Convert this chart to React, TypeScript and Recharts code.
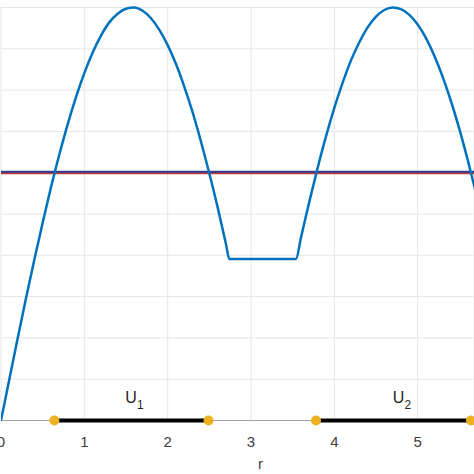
import { ComposedChart, Line, XAxis, YAxis, CartesianGrid, ReferenceLine, ReferenceDot } from "recharts";

// curve
const rValues = [
  0, 0.1, 0.2, 0.3, 0.4, 0.5, 0.6, 0.7, 0.8, 0.9, 1.0, 1.1, 1.2, 1.3, 1.4, 1.5, 1.6, 1.7, 1.8, 1.9,
  2.0, 2.1, 2.2, 2.3, 2.4, 2.5, 2.6, 2.7, 2.74, 3.54, 3.6, 3.7, 3.8, 3.9, 4.0, 4.1, 4.2, 4.3, 4.4,
  4.5, 4.6, 4.7, 4.8, 4.9, 5.0, 5.1, 5.2, 5.3, 5.4, 5.5, 5.6, 5.7,
];
const fValues = [
  0, 0.1, 0.199, 0.296, 0.389, 0.479, 0.565, 0.644, 0.717, 0.783, 0.841, 0.891, 0.932, 0.964, 0.985,
  0.997, 1.0, 0.992, 0.974, 0.946, 0.909, 0.863, 0.808, 0.746, 0.675, 0.598, 0.516, 0.427, 0.391,
  0.391, 0.443, 0.53, 0.612, 0.688, 0.757, 0.818, 0.872, 0.916, 0.952, 0.978, 0.994, 1.0, 0.996,
  0.982, 0.959, 0.926, 0.883, 0.832, 0.773, 0.706, 0.631, 0.551,
];
const level = 0.6;

// intervals on the r axis
const u1 = [0.64, 2.49];
const u2 = [3.78, 5.64];
const u1Label = { r: 1.6, v: 0.05, name: "U", sub: "1" };
const u2Label = { r: 4.81, v: 0.05, name: "U", sub: "2" };

const xTicks = [0, 1, 2, 3, 4, 5];
const yTicks = [0, 0.1, 0.2, 0.3, 0.4, 0.5, 0.6, 0.7, 0.8, 0.9, 1];

const curve = rValues.map((r, i) => ({ r, v: fValues[i] }));
const seg1 = u1.map((r) => ({ r, v: 0 }));
const seg2 = u2.map((r) => ({ r, v: 0 }));

const font = "'Liberation Sans', Arial, sans-serif";

function SubLabel(props: any) {
  const { viewBox, name, sub } = props;
  const x = viewBox.x;
  const y = viewBox.y;
  return (
    <text x={x - 9} y={y + 3} fontFamily={font} fontSize={16} fill="#262626">
      {name}
      <tspan dy={6} fontSize={12}>{sub}</tspan>
    </text>
  );
}

export default function App() {
  return (
    <div style={{ position: "absolute", left: 0, top: 0 }}>
      <ComposedChart width={474} height={474} margin={{ top: 7.5, right: 0, bottom: 0, left: 1 }}>
        <CartesianGrid stroke="#e6e6e6" />
        <XAxis
          dataKey="r"
          type="number"
          domain={[0, 5.676]}
          allowDataOverflow
          ticks={xTicks}
          interval={0}
          height={53.5}
          axisLine={false}
          tickLine={false}
          tickMargin={10}
          tick={{ fill: "#404040", fontSize: 15, fontFamily: font }}
          label={{ value: "r", position: "insideBottom", offset: 5, dx: 23, fill: "#404040", fontSize: 15, fontFamily: font }}
        />
        <XAxis
          xAxisId="top"
          orientation="top"
          dataKey="r"
          type="number"
          domain={[0, 5.676]}
          allowDataOverflow
          ticks={xTicks}
          height={0}
          mirror
          tickSize={4}
          stroke="#a0a0a0"
          tickFormatter={() => ""}
        />
        <YAxis
          type="number"
          domain={[0, 1]}
          ticks={yTicks}
          width={0}
          mirror
          tickSize={4}
          stroke="#b5b5b5"
          tickFormatter={() => ""}
        />
        <ReferenceLine y={0} stroke="#a0a0a0" strokeWidth={1} />
        <ReferenceLine y={level} stroke="#c0392b" strokeWidth={3} />
        <ReferenceLine y={level + 0.002} stroke="#2f3c9e" strokeWidth={2} />
        <Line
          data={curve}
          dataKey="v"
          type="monotone"
          stroke="#0072BD"
          strokeWidth={2.5}
          dot={false}
          isAnimationActive={false}
        />
        <Line
          data={seg1}
          dataKey="v"
          stroke="#000000"
          strokeWidth={4}
          dot={{ r: 5, fill: "#EDB120", stroke: "none" }}
          isAnimationActive={false}
        />
        <Line
          data={seg2}
          dataKey="v"
          stroke="#000000"
          strokeWidth={4}
          dot={{ r: 5, fill: "#EDB120", stroke: "none" }}
          isAnimationActive={false}
        />
        <ReferenceDot
          x={u1Label.r}
          y={u1Label.v}
          r={0}
          stroke="none"
          label={<SubLabel name={u1Label.name} sub={u1Label.sub} />}
        />
        <ReferenceDot
          x={u2Label.r}
          y={u2Label.v}
          r={0}
          stroke="none"
          label={<SubLabel name={u2Label.name} sub={u2Label.sub} />}
        />
      </ComposedChart>
    </div>
  );
}
